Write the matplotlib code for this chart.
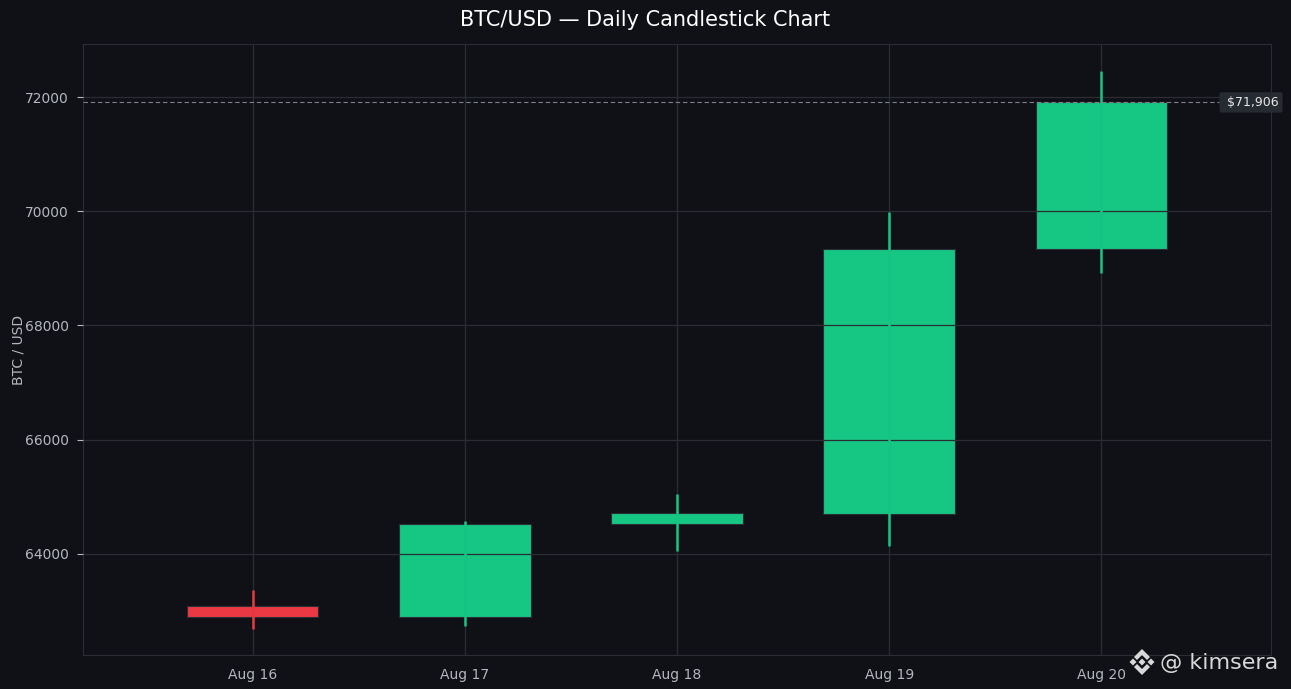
import matplotlib.pyplot as plt
from matplotlib.patches import Rectangle, Polygon

# daily OHLC
dates = ["Aug 16", "Aug 17", "Aug 18", "Aug 19", "Aug 20"]
opens = [63086, 62893, 64522, 64700, 69338]
highs = [63366, 64575, 65047, 69990, 72455]
lows = [62683, 62736, 64049, 64137, 68918]
closes = [62893, 64522, 64715, 69338, 71906]
last_price = 71906

BG = "#0f1116"
GRID = "#2a2d34"
UP = "#16c784"
DOWN = "#ea3943"
TXT = "#b4b7bd"

fig = plt.figure(figsize=(12.91, 6.89), dpi=100, facecolor=BG)
ax = fig.add_axes([83 / 1291, 34 / 689, 1188 / 1291, 611 / 689])
ax.set_facecolor(BG)

w = 0.62
for i in range(len(dates)):
    o, h, l, c = opens[i], highs[i], lows[i], closes[i]
    col = UP if c >= o else DOWN
    ax.add_patch(Rectangle((i - w / 2, min(o, c)), w, abs(c - o),
                           facecolor=col, edgecolor=GRID, linewidth=0.8, zorder=2))
    ax.plot([i, i], [l, h], color=col, linewidth=1.8, zorder=3.5, solid_capstyle="butt")

ax.set_xlim(-0.8, 4.8)
ax.set_ylim(62231, 72928)
ax.set_xticks(range(len(dates)))
ax.set_xticklabels(dates)
ax.set_yticks([64000, 66000, 68000, 70000, 72000])
ax.grid(True, color=GRID, linewidth=0.9, zorder=3)
ax.set_axisbelow(False)
for s in ax.spines.values():
    s.set_color(GRID)
ax.tick_params(colors=TXT, labelsize=10, length=4, pad=6)
ax.tick_params(axis="x", length=0, pad=9)
for t in ax.get_xticklabels() + ax.get_yticklabels():
    t.set_color(TXT)

ax.axhline(last_price, color="#7d8088", linestyle=(0, (4, 2.5)), linewidth=0.8, zorder=4)
ax.text(4.575, last_price, " $71,906", color="#e8e8e8", fontsize=9, va="center", ha="left",
        zorder=5, clip_on=False,
        bbox=dict(boxstyle="round,pad=0.3,rounding_size=0.2", fc="#262a31", ec="none"))

ax.set_ylabel("BTC / USD", color=TXT, fontsize=10, labelpad=0)
fig.suptitle("BTC/USD — Daily Candlestick Chart", color="white", fontsize=15, y=0.985)

# watermark logo (diamond motif) + handle
cx, cy = 1142 / 1291, 1 - 662 / 689
def diamond(x, y, s):
    pts = [(x * 1291, y * 689 + s), (x * 1291 + s, y * 689), (x * 1291, y * 689 - s), (x * 1291 - s, y * 689)]
    return Polygon([(px / 1291, py / 689) for px, py in pts], closed=True,
                   transform=fig.transFigure, fc="#d8d8d8", ec="none")
for dx, dy in [(0, 0), (-9, 0), (9, 0)]:
    fig.patches.append(diamond(cx + dx / 1291, cy + dy / 689, 3.5))
top = [(-8, 5), (0, 13), (8, 5), (5, 2), (0, 7), (-5, 2)]
for sgn in (1, -1):
    pts = [((cx * 1291 + px) / 1291, (cy * 689 + sgn * py) / 689) for px, py in top]
    fig.patches.append(Polygon(pts, closed=True, transform=fig.transFigure, fc="#d8d8d8", ec="none"))
fig.text(1160 / 1291, 1 - 663 / 689, "@ kimsera", color="#d8d8d8", fontsize=16, va="center", ha="left")

fig.savefig("out.png", dpi=100, facecolor=BG)
